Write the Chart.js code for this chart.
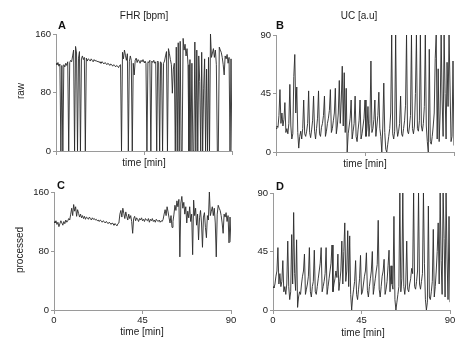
<!DOCTYPE html>
<html>
<head>
<meta charset="utf-8">
<script src="https://cdn.jsdelivr.net/npm/chart.js@4/dist/chart.umd.min.js"></script>
<style>
  html, body { margin: 0; padding: 0; background: #fff; }
  #wrap { position: relative; width: 474px; height: 339px; overflow: hidden; }
  #wrap canvas { position: absolute; left: 0; top: 0; }
  .lbl {
    position: absolute;
    font-family: "Liberation Sans", Arial, sans-serif;
    font-size: 10px;
    color: #222;
    white-space: nowrap;
    transform: translate(-50%, -50%);
  }
  .letter { font-weight: bold; font-size: 11px; color: #111; }
  .rot { transform: translate(-50%, -50%) rotate(-90deg); }
</style>
</head>
<body>
<div id="wrap">
  <canvas id="fhrRaw" width="474" height="339"></canvas>
  <canvas id="ucRaw" width="474" height="339"></canvas>
  <canvas id="fhrProc" width="474" height="339"></canvas>
  <canvas id="ucProc" width="474" height="339"></canvas>

  <div class="lbl" style="left:144px; top:15px;">FHR [bpm]</div>
  <div class="lbl" style="left:359px; top:15px;">UC [a.u]</div>
  <div class="lbl letter" style="left:62px; top:25px;">A</div>
  <div class="lbl letter" style="left:280px; top:25px;">B</div>
  <div class="lbl letter" style="left:61px; top:185px;">C</div>
  <div class="lbl letter" style="left:280px; top:186px;">D</div>
  <div class="lbl rot" style="left:20px; top:91px;">raw</div>
  <div class="lbl rot" style="left:19px; top:250px;">processed</div>
  <div class="lbl" style="left:144px; top:162px;">time [min]</div>
  <div class="lbl" style="left:365px; top:163px;">time [min]</div>
  <div class="lbl" style="left:142px; top:331px;">time [min]</div>
  <div class="lbl" style="left:363px; top:332px;">time [min]</div>
</div>

<script>
// one sample every half minute, 0..90 min
const SAMPLE_MIN = 0.5;
const timeTicks = [0, 45, 90];
const fhrTicks = [0, 80, 160];
const ucTicks = [0, 45, 90];

// fetal heart rate, raw trace (signal loss shows as drops to 0)
const fhrRaw = [
  120,118,121,116,119,0,117,0,118,115,120,117,122,0,121,124,122,
  130,138,0,143,134,0,127,136,0,126,
  130,125,128,0,127,123,126,125,123,126,124,122,125,123,
  124,122,123,121,122,120,122,121,119,121,120,118,120,119,117,119,118,116,118,117,115,117,116,114,117,
  118,0,135,126,138,131,124,133,0,122,130,124,0,120,104,
  124,127,121,125,123,120,124,122,125,121,123,120,0,122,121,124,0,123,121,124,120,122,0,123,121,0,122,119,0,120,123,
  130,136,0,140,133,125,118,79,112,
  120,0,142,0,148,0,150,0,0,154,138,146,130,140,118,0,125,0,120,0,0,149,0,138,0,130,95,0,135,0,
  85,126,0,112,0,128,0,160,128,134,140,128,138,118,0,0,142,138,135,128,118,104,130,126,132,120,128,0,126,0
];

// fetal heart rate after processing
const fhrProc = [
  120,118,121,116,119,113,117,121,118,115,120,117,122,119,121,124,122,
  130,138,128,143,134,140,127,136,131,126,
  130,125,128,124,127,123,126,125,123,126,124,122,125,123,
  124,122,123,121,122,120,122,121,119,121,120,118,120,119,117,119,118,116,118,117,115,117,116,114,117,
  118,130,135,126,138,131,124,133,127,122,130,124,128,120,104,
  124,127,121,125,123,120,124,122,125,121,123,120,124,122,121,124,119,123,121,124,120,122,119,123,121,120,122,119,121,120,123,
  130,136,128,140,133,125,118,128,112,
  120,130,142,135,148,140,150,72,145,154,138,146,130,140,118,134,125,140,120,130,75,149,128,138,115,130,95,125,135,118,
  85,126,132,112,98,128,122,160,128,134,140,128,138,118,72,130,142,138,135,128,118,104,130,126,132,120,128,91,126,92
];

// uterine contractions, raw
const ucRaw = [
  18,20,19,28,48,22,30,20,25,38,15,18,14,22,52,20,10,14,58,75,30,50,15,3,12,16,10,18,40,14,
  12,16,22,47,15,11,17,24,43,16,10,18,26,47,14,12,19,22,28,43,12,16,22,26,32,48,15,18,24,30,
  49,14,20,30,55,22,40,66,20,61,15,49,0,14,20,26,40,10,16,22,43,12,8,17,24,40,10,14,20,26,
  40,12,18,35,12,22,70,15,18,25,40,12,20,28,46,18,12,0,20,53,15,2,0,6,12,18,30,90,14,10,
  16,90,20,12,16,22,43,14,12,18,24,36,90,16,14,20,28,90,18,14,20,45,90,18,16,24,90,20,16,22,
  35,90,20,8,0,79,8,6,12,20,30,72,90,10,64,8,30,90,40,12,90,45,10,69,35,90,50,8,12,70,5
];

// uterine contractions, processed
const ucProc = [
  18,17,20,26,30,48,20,28,18,22,38,14,18,12,20,53,18,8,14,58,20,75,28,15,54,2,10,14,12,20,
  26,30,43,12,16,20,26,48,14,10,18,22,46,14,12,18,24,30,36,48,14,18,22,28,48,12,18,24,30,36,
  50,14,20,24,30,25,43,15,22,30,53,20,45,67,22,30,61,18,57,12,0,10,16,22,38,12,8,16,24,42,
  12,14,20,26,30,44,15,10,18,24,30,45,12,18,24,30,35,69,16,10,18,26,30,39,12,16,22,34,46,14,
  34,20,16,72,8,0,6,12,18,90,14,24,90,18,12,20,53,16,14,20,24,32,28,90,18,16,22,30,90,20,
  16,22,28,90,36,8,0,6,80,10,8,14,22,62,10,18,30,45,67,20,90,38,12,90,55,10,90,40,8,72,6
];

const AXIS_GREY = '#9a9a9a';
const Y_BOX = 30;   // fixed width of the y axis box
const X_BOX = 20;   // fixed height of the x axis box

function toPoints(values) {
  return values.map((v, i) => ({ x: i * SAMPLE_MIN, y: v }));
}

// area = chart area in page pixels: [left, top, right, bottom]
function makePanel(id, values, yTicks, area, showTimeLabels) {
  const ctx = document.getElementById(id).getContext('2d');
  const [left, top, right, bottom] = area;
  return new Chart(ctx, {
    type: 'line',
    data: {
      datasets: [{
        data: toPoints(values),
        borderColor: '#2a2a2a',
        borderWidth: 0.9,
        pointRadius: 0,
        tension: 0,
        fill: false
      }]
    },
    options: {
      responsive: false,
      animation: false,
      events: [],
      layout: {
        padding: { left: left - Y_BOX, top: top, right: 474 - right, bottom: 339 - bottom - X_BOX }
      },
      plugins: { legend: { display: false }, tooltip: { enabled: false } },
      scales: {
        x: {
          type: 'linear',
          min: timeTicks[0],
          max: timeTicks[timeTicks.length - 1],
          afterBuildTicks: (s) => { s.ticks = timeTicks.map(v => ({ value: v })); },
          afterFit: (s) => { s.height = X_BOX; s.paddingLeft = 0; s.paddingRight = 0; },
          border: { color: AXIS_GREY, width: 1 },
          grid: { drawOnChartArea: false, drawTicks: true, tickLength: 4, color: AXIS_GREY },
          ticks: {
            padding: 1,
            color: '#222',
            font: { family: '"Liberation Sans", Arial, sans-serif', size: 9.5 },
            maxRotation: 0,
            callback: (v) => showTimeLabels ? String(v) : ''
          }
        },
        y: {
          min: yTicks[0],
          max: yTicks[yTicks.length - 1],
          afterBuildTicks: (s) => { s.ticks = yTicks.map(v => ({ value: v })); },
          afterFit: (s) => { s.width = Y_BOX; s.paddingTop = 0; s.paddingBottom = 0; },
          border: { color: AXIS_GREY, width: 1 },
          grid: { drawOnChartArea: false, drawTicks: true, tickLength: 3, color: AXIS_GREY },
          ticks: {
            padding: 2,
            color: '#222',
            font: { family: '"Liberation Sans", Arial, sans-serif', size: 9.5 }
          }
        }
      }
    }
  });
}

makePanel('fhrRaw', fhrRaw, fhrTicks, [56, 34, 232, 151], false);
makePanel('ucRaw', ucRaw, ucTicks, [276, 35, 454, 152], false);
makePanel('fhrProc', fhrProc, fhrTicks, [54, 192, 231, 310], true);
makePanel('ucProc', ucProc, ucTicks, [273, 193, 450, 310], true);
</script>
</body>
</html>
